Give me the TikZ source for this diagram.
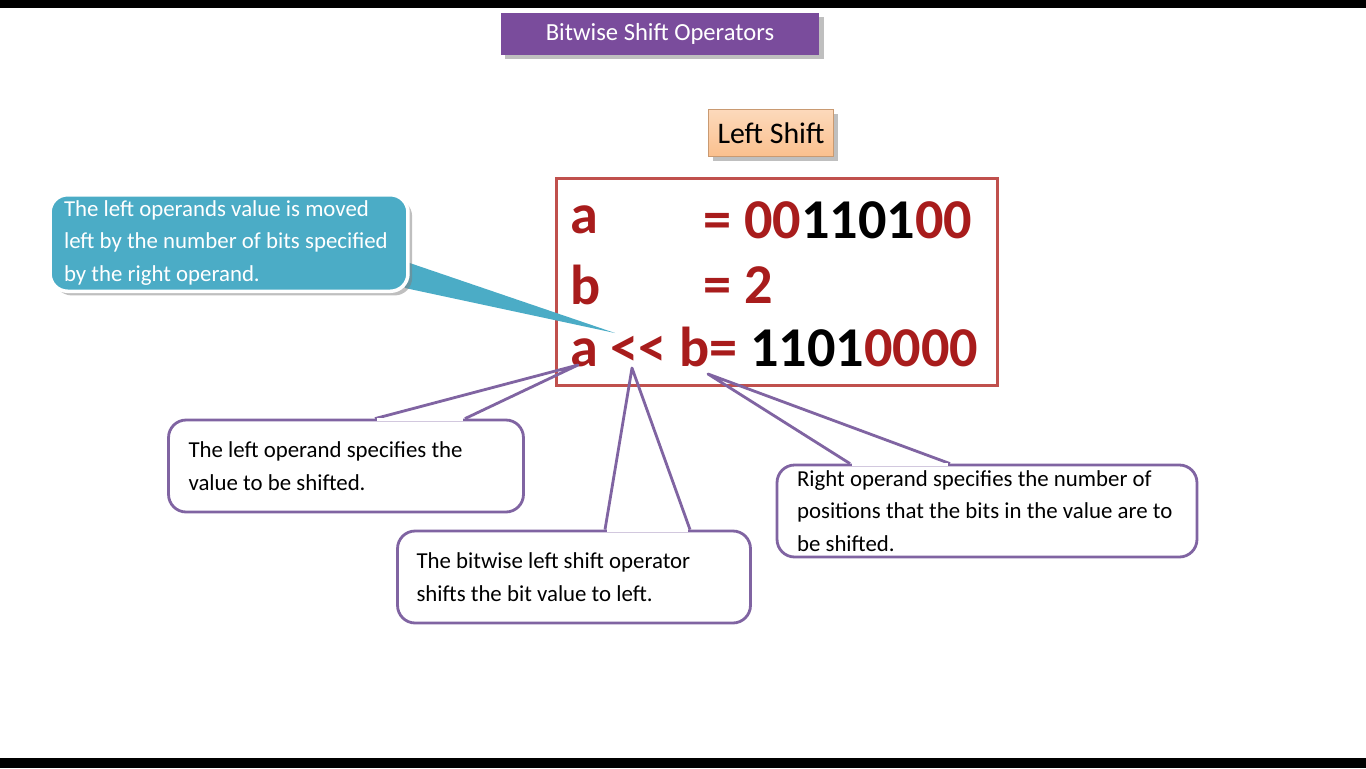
\documentclass[tikz,border=0pt]{standalone}
\usepackage{fontspec}
\setmainfont{Carlito}
\usetikzlibrary{calc,shadows}
\definecolor{titlepurple}{HTML}{7A4C9C}
\definecolor{callpurple}{HTML}{8064A2}
\definecolor{boxred}{HTML}{C0504D}
\definecolor{bitred}{HTML}{A81C1C}
\definecolor{teal}{HTML}{4BACC6}
\definecolor{peach}{HTML}{FBC08E}
\tikzset{
  callbox/.style={draw=callpurple,line width=1.6pt,rounded corners=10pt,fill=white,
    text width=#1,align=flush left,inner sep=0pt,font=\fontsize{13}{18.5}\selectfont},
  bigtxt/.style={anchor=west,inner sep=0pt,font=\fontsize{32}{40}\selectfont\bfseries,text=bitred},
}
\newcommand{\blk}[1]{\textcolor{black}{#1}}
\begin{document}
\begin{tikzpicture}[x=0.02cm,y=-0.02cm]
		\fill[white] (0,0) rectangle (1366,768);
		\fill[black] (0,0) rectangle (1366,8);% top bar
		\fill[black] (0,758) rectangle (1366,768);% bottom bar
		\useasboundingbox (0,0) rectangle (1366,768);

		% title and heading
		\node[fill=titlepurple,drop shadow,minimum width=6.38cm,minimum height=0.84cm,text=white,
		  font=\fontsize{14}{16}\selectfont] (title) at (660,34) {Bitwise Shift Operators};
		\node[top color=peach!60,bottom color=peach,draw=peach!80!black,drop shadow,minimum width=2.5cm,
		  minimum height=0.94cm,font=\fontsize{17}{20}\selectfont] (heading) at (771,133) {Left Shift};

		% main box
		\node[draw=boxred,line width=1.6pt,minimum width=8.82cm,minimum height=4.14cm] (main) at (777,282) {};
		\node[bigtxt] (a) at (570,220) {a};
		\node[bigtxt] (aval) at (703,220) {= 00\blk{1101}00};
		\node[bigtxt] (b) at (570,285) {b};
		\node[bigtxt] (bval) at (703,285) {= 2};
		\node[bigtxt] (res) at (570,347) {a {<}{<} b= \blk{1101}0000};
		\coordinate (tipA) at (578,365);
		\coordinate (tipOp) at (632,368);
		\coordinate (tipB) at (708,374);
		\coordinate (tipT) at (615,333);

		% teal callout
		\fill[teal] (395,258) -- (tipT) -- (405,288) -- cycle;
		\node[fill=teal,draw=white,line width=2pt,rounded corners=10pt,drop shadow,minimum width=7.16cm,
		  minimum height=1.86cm,text width=6.6cm,align=flush left,text=white,font=\fontsize{13}{18.5}\selectfont]
		  (note) at (229,243) {The left operands value is moved left by the number of bits specified by the right operand.};

		% purple callouts
		\node[callbox=6.3cm,minimum width=7.1cm,minimum height=1.84cm] (left) at (346,466)
		  {The left operand specifies the value to be shifted.};
		\node[callbox=6.3cm,minimum width=7.06cm,minimum height=1.84cm] (op) at (574,577)
		  {The bitwise left shift operator shifts the bit value to left.};
		\node[callbox=7.6cm,minimum width=8.4cm,minimum height=1.84cm] (right) at (987,511)
		  {Right operand specifies the number of positions that the bits in the value are to be shifted.};
		\foreach \bx/\ta/\tb/\tip in {left/375/465/tipA, op/605/690/tipOp, right/850/950/tipB}{
		  \draw[callpurple,line width=1.6pt,line join=round] (\ta,0 |- \bx.north) -- (\tip) -- (\tb,0 |- \bx.north);
		  \draw[white,line width=1.4pt] ($(\ta,0 |- \bx.north)+(2,1)$) -- ($(\tb,0 |- \bx.north)+(-2,1)$);
		}
	  \end{tikzpicture}
\end{document}
